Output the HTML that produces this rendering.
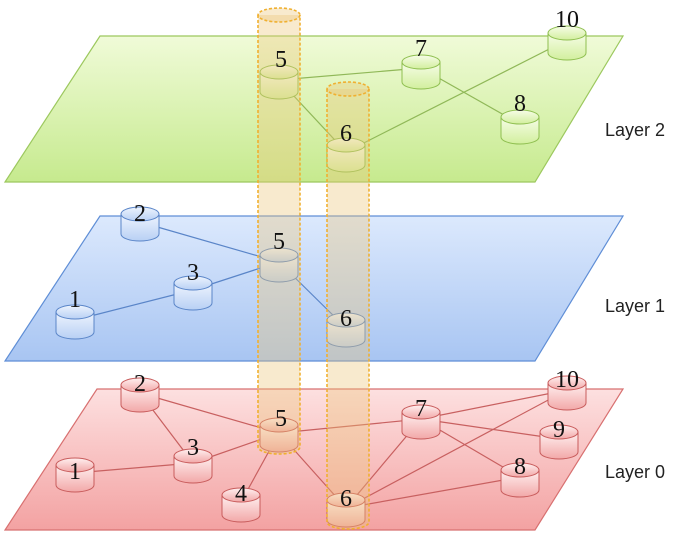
<!DOCTYPE html>
<html><head><meta charset="utf-8"><style>
html,body{margin:0;padding:0;background:#fff;}
svg{display:block;}
.n{font-family:"Liberation Serif",serif;font-size:24px;text-anchor:middle;fill:#111;}
.l{font-family:"Liberation Sans",sans-serif;font-size:18px;fill:#222;}
</style></head><body>
<svg width="685" height="542" viewBox="0 0 685 542" xmlns="http://www.w3.org/2000/svg">
<defs>
<linearGradient id="gG" x1="0" y1="0" x2="0" y2="1"><stop offset="0" stop-color="#f0fbd8"/><stop offset="1" stop-color="#c6ea8e"/></linearGradient>
<linearGradient id="gB" x1="0" y1="0" x2="0" y2="1"><stop offset="0" stop-color="#dce9fd"/><stop offset="1" stop-color="#a8c5f2"/></linearGradient>
<linearGradient id="gR" x1="0" y1="0" x2="0" y2="1"><stop offset="0" stop-color="#fde0e0"/><stop offset="1" stop-color="#f3a2a2"/></linearGradient>
<linearGradient id="cG" x1="0" y1="0" x2="0" y2="1"><stop offset="0" stop-color="#f7fde8"/><stop offset="1" stop-color="#d2ef9e"/></linearGradient>
<linearGradient id="cB" x1="0" y1="0" x2="0" y2="1"><stop offset="0" stop-color="#eef4fe"/><stop offset="1" stop-color="#b8d0f4"/></linearGradient>
<linearGradient id="cR" x1="0" y1="0" x2="0" y2="1"><stop offset="0" stop-color="#fff0f0"/><stop offset="1" stop-color="#f2a8a8"/></linearGradient>
</defs>
<polygon points="97,389 623,389 535,530 5,530" fill="url(#gR)" stroke="#d87070" stroke-width="1.2"/>
<polygon points="100,216 623,216 535,361 5,361" fill="url(#gB)" stroke="#5f8ed6" stroke-width="1.2"/>
<polygon points="100,36 623,36 535,182 5,182" fill="url(#gG)" stroke="#9cc85e" stroke-width="1.2"/>
<g stroke="#90b858" stroke-width="1.2">
<line x1="279" y1="80" x2="421" y2="68"/><line x1="279" y1="80" x2="346" y2="152"/>
<line x1="421" y1="68" x2="520" y2="124"/><line x1="346" y1="152" x2="567" y2="40"/>
</g>
<g stroke="#5a85c8" stroke-width="1.2">
<line x1="140" y1="222" x2="279" y2="262"/><line x1="193" y1="290" x2="279" y2="262"/>
<line x1="75" y1="320" x2="193" y2="290"/><line x1="279" y1="262" x2="346" y2="328"/>
</g>
<g stroke="#c86060" stroke-width="1.2">
<line x1="140" y1="393" x2="279" y2="433"/><line x1="140" y1="393" x2="193" y2="463"/>
<line x1="75" y1="473" x2="193" y2="463"/><line x1="193" y1="463" x2="279" y2="433"/>
<line x1="241" y1="502" x2="279" y2="433"/><line x1="279" y1="433" x2="421" y2="419"/>
<line x1="279" y1="433" x2="346" y2="508"/><line x1="346" y1="508" x2="421" y2="419"/>
<line x1="346" y1="508" x2="567" y2="390"/><line x1="346" y1="508" x2="520" y2="477"/>
<line x1="421" y1="419" x2="567" y2="390"/><line x1="421" y1="419" x2="559" y2="439"/>
<line x1="421" y1="419" x2="520" y2="477"/>
</g>
<g stroke-width="1">
<g fill="url(#cG)" stroke="#8fbf50">
<path d="M260,72 v20 a19,7 0 0 0 38,0 v-20 z"/><ellipse cx="279" cy="72" rx="19" ry="7"/>
<path d="M402,62 v20 a19,7 0 0 0 38,0 v-20 z"/><ellipse cx="421" cy="62" rx="19" ry="7"/>
<path d="M501,117 v20 a19,7 0 0 0 38,0 v-20 z"/><ellipse cx="520" cy="117" rx="19" ry="7"/>
<path d="M548,33 v20 a19,7 0 0 0 38,0 v-20 z"/><ellipse cx="567" cy="33" rx="19" ry="7"/>
<path d="M327,145 v20 a19,7 0 0 0 38,0 v-20 z"/><ellipse cx="346" cy="145" rx="19" ry="7"/>
</g>
<g fill="url(#cB)" stroke="#5a85c8">
<path d="M121,214 v20 a19,7 0 0 0 38,0 v-20 z"/><ellipse cx="140" cy="214" rx="19" ry="7"/>
<path d="M174,283 v20 a19,7 0 0 0 38,0 v-20 z"/><ellipse cx="193" cy="283" rx="19" ry="7"/>
<path d="M56,312 v20 a19,7 0 0 0 38,0 v-20 z"/><ellipse cx="75" cy="312" rx="19" ry="7"/>
<path d="M260,255 v20 a19,7 0 0 0 38,0 v-20 z"/><ellipse cx="279" cy="255" rx="19" ry="7"/>
<path d="M327,320 v20 a19,7 0 0 0 38,0 v-20 z"/><ellipse cx="346" cy="320" rx="19" ry="7"/>
</g>
<g fill="url(#cR)" stroke="#c85c5c">
<path d="M121,385 v20 a19,7 0 0 0 38,0 v-20 z"/><ellipse cx="140" cy="385" rx="19" ry="7"/>
<path d="M174,456 v20 a19,7 0 0 0 38,0 v-20 z"/><ellipse cx="193" cy="456" rx="19" ry="7"/>
<path d="M56,465 v20 a19,7 0 0 0 38,0 v-20 z"/><ellipse cx="75" cy="465" rx="19" ry="7"/>
<path d="M222,495 v20 a19,7 0 0 0 38,0 v-20 z"/><ellipse cx="241" cy="495" rx="19" ry="7"/>
<path d="M260,425 v20 a19,7 0 0 0 38,0 v-20 z"/><ellipse cx="279" cy="425" rx="19" ry="7"/>
<path d="M327,500 v20 a19,7 0 0 0 38,0 v-20 z"/><ellipse cx="346" cy="500" rx="19" ry="7"/>
<path d="M402,412 v20 a19,7 0 0 0 38,0 v-20 z"/><ellipse cx="421" cy="412" rx="19" ry="7"/>
<path d="M501,470 v20 a19,7 0 0 0 38,0 v-20 z"/><ellipse cx="520" cy="470" rx="19" ry="7"/>
<path d="M540,432 v20 a19,7 0 0 0 38,0 v-20 z"/><ellipse cx="559" cy="432" rx="19" ry="7"/>
<path d="M548,383 v20 a19,7 0 0 0 38,0 v-20 z"/><ellipse cx="567" cy="383" rx="19" ry="7"/>
</g>
</g>
<g fill="rgba(236,196,120,0.36)" stroke="#f0b030" stroke-width="1.6" stroke-dasharray="3,2">
<path d="M258,15 V447 a21,7 0 0 0 42,0 V15"/>
<ellipse cx="279" cy="15" rx="21" ry="7"/>
<path d="M327,89 V522 a21,7 0 0 0 42,0 V89"/>
<ellipse cx="348" cy="89" rx="21" ry="7"/>
</g>
<g>
<text x="281" y="67" class="n">5</text><text x="421" y="56" class="n">7</text><text x="520" y="111" class="n">8</text><text x="567" y="27" class="n">10</text><text x="346" y="141" class="n">6</text>
<text x="140" y="221" class="n">2</text><text x="193" y="280" class="n">3</text><text x="75" y="307" class="n">1</text><text x="279" y="249" class="n">5</text><text x="346" y="326" class="n">6</text>
<text x="140" y="391" class="n">2</text><text x="193" y="455" class="n">3</text><text x="75" y="479" class="n">1</text><text x="241" y="501" class="n">4</text><text x="281" y="426" class="n">5</text><text x="346" y="506" class="n">6</text><text x="421" y="416" class="n">7</text><text x="520" y="474" class="n">8</text><text x="559" y="437" class="n">9</text><text x="567" y="387" class="n">10</text>
</g>
<text x="605" y="136" class="l">Layer 2</text>
<text x="605" y="312" class="l">Layer 1</text>
<text x="605" y="478" class="l">Layer 0</text>
</svg>
</body></html>
